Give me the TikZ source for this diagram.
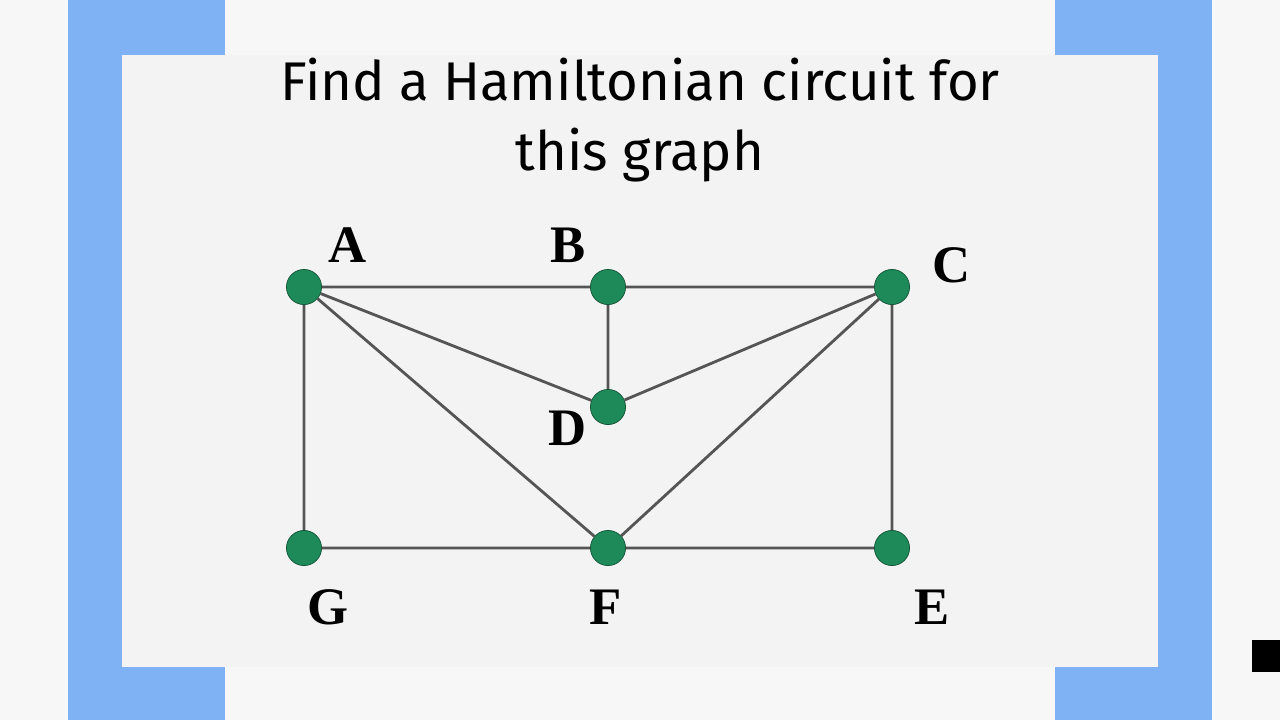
\documentclass[tikz,border=0pt]{standalone}
\usepackage{fontspec}
\setmainfont{Liberation Serif}
\newfontfamily\titlefont{Fira Sans}
\definecolor{bg}{HTML}{F7F7F7}
\definecolor{panel}{HTML}{F3F3F3}
\definecolor{bluebar}{HTML}{7FB2F5}
\definecolor{nodegreen}{HTML}{1E8A5A}
\definecolor{edgegray}{HTML}{555555}
\tikzset{
  vtx/.style={circle,fill=nodegreen,draw=nodegreen!60!black,minimum size=20pt,inner sep=0pt},
  edge/.style={draw=edgegray,line width=1.6pt},
  lbl/.style={font=\fontsize{30}{30}\selectfont\bfseries,text=black},
}
\begin{document}
\begin{tikzpicture}[x=0.02cm,y=-0.02cm]
\useasboundingbox (0,0) rectangle (1280,720);
\fill[bg] (0,0) rectangle (1280,720);
\fill[bluebar] (68,0) rectangle (225,720);
\fill[bluebar] (1055,0) rectangle (1212,720);
\fill[panel] (122,55) rectangle (1158,667);
\fill[black] (1252,640) rectangle (1280,672);
\node[font=\titlefont\fontsize{31}{40}\selectfont,align=center] (title) at (640,120) {Find a Hamiltonian circuit for\\this graph};
\node[vtx] (A) at (304,287) {};
\node[vtx] (B) at (608,287) {};
\node[vtx] (C) at (892,287) {};
\node[vtx] (D) at (608,407) {};
\node[vtx] (G) at (304,548) {};
\node[vtx] (F) at (608,548) {};
\node[vtx] (E) at (892,548) {};
\draw[edge] (A)--(B) (B)--(C) (A)--(G) (C)--(E) (G)--(F) (F)--(E) (A)--(D) (B)--(D) (C)--(D) (A)--(F) (C)--(F);
\node[lbl] (la) at (348,245) {A};
\node[lbl] (lb) at (568,245) {B};
\node[lbl] (lc) at (952,265) {C};
\node[lbl] (ld) at (568,428) {D};
\node[lbl] (lg) at (328,607) {G};
\node[lbl] (lf) at (606,607) {F};
\node[lbl] (le) at (932,607) {E};
\end{tikzpicture}
\end{document}
